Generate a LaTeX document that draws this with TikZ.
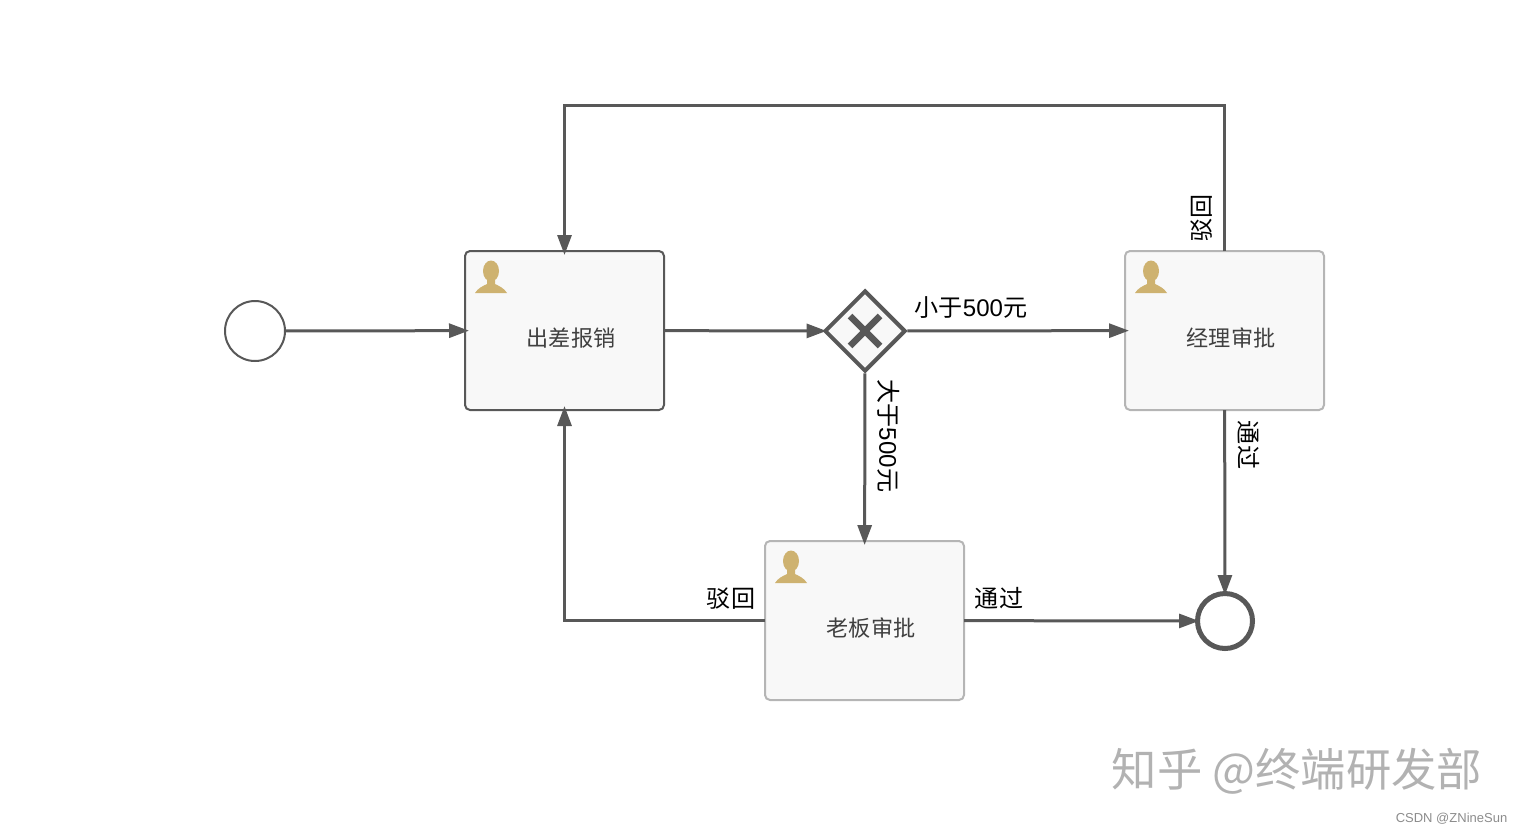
\documentclass[tikz,border=0pt]{standalone}
\usepackage{fontspec}
\setmainfont{Liberation Sans}
\newfontfamily\cjk{Noto Sans CJK SC}
\usetikzlibrary{positioning,arrows.meta,shapes.geometric}
\definecolor{slate}{RGB}{88,88,88}
\definecolor{pale}{RGB}{181,181,181}
\definecolor{paper}{RGB}{248,248,248}
\definecolor{userc}{RGB}{206,178,112}
\tikzset{
  usericon/.pic={
    \fill[userc] (0,.06) ellipse (.08 and .105);
    \fill[userc] (-.16,-.16) .. controls (-.13,-.11) and (-.08,-.09) .. (-.04,-.07)
      -- (-.04,-.02) -- (.04,-.02) -- (.04,-.07) .. controls (.08,-.09) and (.13,-.11) .. (.16,-.16) -- cycle;
  }
}
\begin{document}
\begin{tikzpicture}[
  font=\cjk,
  startev/.style={circle, draw=slate, fill=white, line width=0.02cm, minimum size=0.6cm, inner sep=0pt, outer sep=0pt},
  endev/.style={circle, draw=slate, fill=white, line width=0.05cm, minimum size=0.55cm, inner sep=0pt, outer sep=0.025cm},
  task/.style={draw=pale, fill=paper, rounded corners=0.05cm, line width=0.02cm,
               minimum width=1.99cm, minimum height=1.59cm, inner sep=0pt, outer sep=0pt},
  taskon/.style={task, draw=slate},
  tasktext/.style={font=\fontsize{6.3}{7.5}\selectfont\cjk, text=black!75, inner sep=0pt},
  gate/.style={diamond, draw=slate, fill=paper, line width=0.04cm, minimum size=0.81cm, inner sep=0pt, outer sep=0.02cm, aspect=1},
  gatex/.style={draw=slate, line width=0.065cm},
  ar/.style={-{Triangle[length=0.2cm,width=0.14cm]}, draw=slate, line width=0.03cm, shorten >=-0.04cm},
  flow/.style={font=\fontsize{6.85}{8}\selectfont\cjk, text=black, inner sep=0pt},
  wmark/.style={font=\fontsize{12.9}{14}\selectfont\cjk, text=black!30, inner sep=0pt},
  srcmark/.style={font=\fontsize{3.7}{4.5}\selectfont, text=black!45, inner sep=0pt},
]
\useasboundingbox (0,0) rectangle (15.22,-8.34);

\node[startev] (start) at (2.55,-3.31) {};
\node[taskon] (expense) at (5.645,-3.305) {};
\node[gate] (gw) at (8.65,-3.31) {};
\node[task] (manager) at (12.245,-3.305) {};
\node[task] (boss) at (8.645,-6.205) {};
\node[endev] (finish) at (12.25,-6.21) {};

\node[tasktext] (expensetxt) at (5.71,-3.38) {出差报销};
\node[tasktext] (managertxt) at (12.31,-3.38) {经理审批};
\node[tasktext] (bosstxt) at (8.71,-6.28) {老板审批};

\pic at ([shift={(.26,-.26)}]expense.north west) {usericon};
\pic at ([shift={(.26,-.26)}]manager.north west) {usericon};
\pic at ([shift={(.26,-.26)}]boss.north west) {usericon};

\draw[gatex] ([shift={(-.15,.15)}]gw.center) -- ([shift={(.15,-.15)}]gw.center);
\draw[gatex] ([shift={(-.15,-.15)}]gw.center) -- ([shift={(.15,.15)}]gw.center);

\draw[ar] (start) -- (expense);
\draw[ar] (expense) -- (gw);
\draw[ar] (gw) -- (manager);
\draw[ar] (gw) -- (boss);
\draw[ar] (manager.north) -- ++(0,1.46) -| (expense.north);
\draw[ar] (manager) -- (finish);
\draw[ar] (boss.west) -| (expense.south);
\draw[ar] (boss) -- (finish);

\node[flow] (lless) at (9.71,-3.075) {小于{\fontspec{Liberation Sans}500}元};
\node[flow, rotate=-90] (lmore) at (8.885,-4.36) {大于{\fontspec{Liberation Sans}500}元};
\node[flow] (lreject) at (7.31,-5.985) {驳回};
\node[flow] (lpass) at (9.99,-5.985) {通过};
\node[flow, rotate=-90] (lpassm) at (12.485,-4.45) {通过};
\begin{scope}
  \clip (11.7,-1.8) rectangle (12.3,-2.395);
  \node[flow, rotate=90] (lback) at (12.02,-2.18) {驳回};
\end{scope}

\node[wmark] (zhihu) at (12.97,-7.71) {知乎 @终端研发部};
\node[srcmark] (csdn) at (14.515,-8.19) {CSDN @ZNineSun};
\end{tikzpicture}
\end{document}
